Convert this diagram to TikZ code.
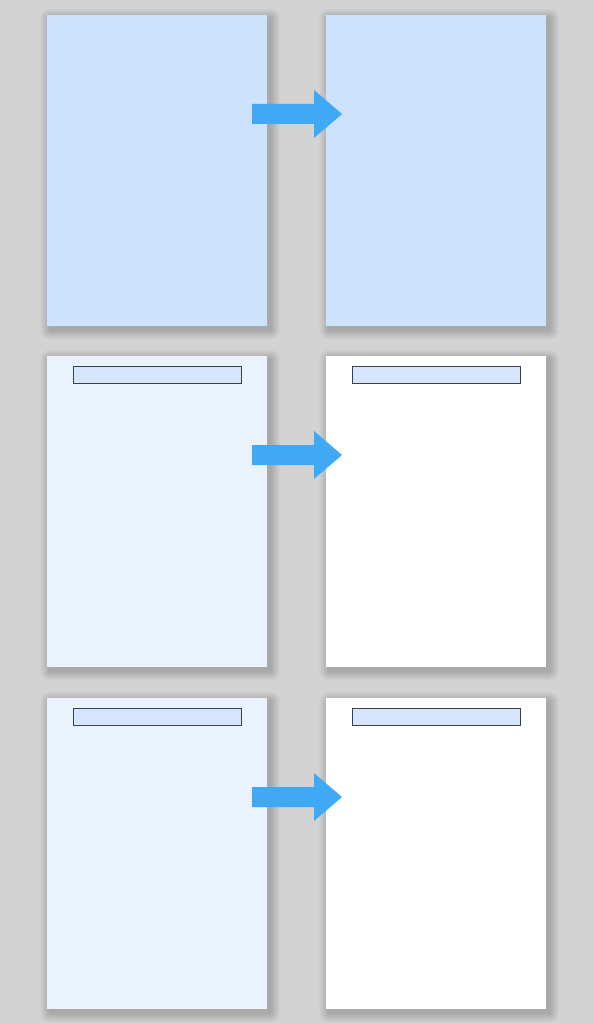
\documentclass[tikz,border=0pt]{standalone}
\usetikzlibrary{backgrounds}
\definecolor{bgc}{RGB}{211,211,211}
\definecolor{pageblue}{RGB}{204,226,253}
\definecolor{pagelight}{RGB}{234,242,254}
\definecolor{barblue}{RGB}{212,229,253}
\definecolor{arrowblue}{RGB}{63,169,245}
\definecolor{barline}{RGB}{60,64,72}
\tikzset{
  page/.style={draw=none, rectangle, minimum width=220pt, minimum height=311pt, inner sep=0pt, anchor=north west},
  titlebar/.style={draw=barline, line width=0.6pt, fill=barblue, rectangle, minimum width=168pt, minimum height=17pt, inner sep=0pt, anchor=north west},
  bigarrow/.style={fill=arrowblue, draw=none},
  shadowlayer/.style={fill=black, fill opacity=0.012, draw=none, rounded corners=\e pt}
}
\newcommand{\mypageshadow}[1]{%
  \foreach \e in {10,9.3,...,0.5}{%
    \fill[shadowlayer] ([shift={(3-\e,3.5-\e)}]#1.north west) rectangle ([shift={(3+\e,3.5+\e)}]#1.south east);
  }%
}
\begin{document}
\begin{tikzpicture}[x=1pt,y=-1pt]
\useasboundingbox (0,0) rectangle (593,1024);
% row 1
\node[page, fill=pageblue] (p1l) at (47,15) {};
\node[page, fill=pageblue] (p1r) at (326,15) {};
% row 2
\node[page, fill=pagelight] (p2l) at (47,356) {};
\node[page, fill=white] (p2r) at (326,356) {};
\node[titlebar] (b2l) at (73,366) {};
\node[titlebar] (b2r) at (352,366) {};
% row 3
\node[page, fill=pagelight] (p3l) at (47,698) {};
\node[page, fill=white] (p3r) at (326,698) {};
\node[titlebar] (b3l) at (73,708) {};
\node[titlebar] (b3r) at (352,708) {};
\begin{scope}[on background layer]
  \fill[bgc] (0,0) rectangle (593,1024);
  \mypageshadow{p1l}\mypageshadow{p1r}
  \mypageshadow{p2l}\mypageshadow{p2r}
  \mypageshadow{p3l}\mypageshadow{p3r}
\end{scope}
% arrows
\foreach \yy in {114,455,797}{
  \fill[bigarrow] (252,\yy-10) -- (314,\yy-10) -- (314,\yy-24) -- (342,\yy) -- (314,\yy+24) -- (314,\yy+10) -- (252,\yy+10) -- cycle;
}
\end{tikzpicture}
\end{document}
